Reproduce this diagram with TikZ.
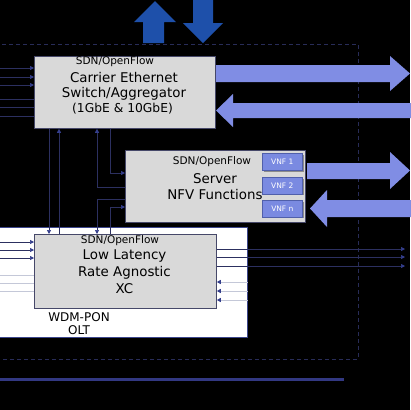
\documentclass[tikz,border=0pt]{standalone}
\usepackage{fontspec}
\setmainfont{DejaVu Sans}
\usetikzlibrary{arrows.meta}
\definecolor{peri}{RGB}{128,141,228}
\definecolor{royal}{RGB}{30,80,170}
\definecolor{navy}{RGB}{44,48,96}
\definecolor{navytip}{RGB}{52,62,140}
\definecolor{boxgray}{RGB}{217,217,217}
\definecolor{boxline}{RGB}{70,72,105}
\definecolor{vnffill}{RGB}{122,138,225}
\definecolor{vnfline}{RGB}{80,95,170}
\definecolor{lightln}{RGB}{196,200,216}
\definecolor{dashc}{RGB}{40,44,88}
\definecolor{olt}{RGB}{60,70,140}
\definecolor{bline}{RGB}{50,56,130}
\begin{document}
\begin{tikzpicture}[x=1pt,y=-1pt,
  gbox/.style={draw=boxline, fill=boxgray, line width=0.8pt, inner sep=0pt, anchor=north west},
  vnf/.style={draw=vnfline, fill=vnffill, line width=0.7pt, inner sep=0pt, anchor=north west,
    text=white, font=\fontsize{7.5}{9}\selectfont},
  tline/.style={draw=navy, line width=0.7pt},
  lline/.style={draw=lightln, line width=0.7pt},
  tarr/.style={tline, -{Triangle[length=4pt,width=4pt,fill=navytip,color=navytip]}},
  larr/.style={lline, -{Triangle[length=4pt,width=4pt,fill=navytip,color=navytip]}},
  bigarr/.style={fill=peri},
  small/.style={font=\fontsize{10.5}{12}\selectfont, inner sep=0pt},
  main/.style={font=\fontsize{13.4}{16}\selectfont, inner sep=0pt},
]
\fill[black] (0,0) rectangle (410,410);
\useasboundingbox (0,0) rectangle (410,410);

% dashed frame
\draw[dashc, line width=0.8pt, dash pattern=on 4pt off 3pt] (-5,44) -- (358,44) -- (358,359) -- (-5,359);
% bottom line
\draw[bline, line width=3pt] (0,379) -- (344,379);

% blue up/down arrows
\fill[royal] (143,43) -- (143,22) -- (134,22) -- (155,1) -- (176,22) -- (164,22) -- (164,43) -- cycle;
\fill[royal] (193,0) -- (213,0) -- (213,23) -- (223,23) -- (203,43) -- (183,23) -- (193,23) -- cycle;

% big periwinkle arrows
\fill[bigarr] (216,65) -- (390,65) -- (390,56) -- (410,73.5) -- (390,91) -- (390,82) -- (216,82) -- cycle;
\fill[bigarr] (412,103) -- (233,103) -- (233,94) -- (216,110.5) -- (233,127) -- (233,118) -- (412,118) -- cycle;
\fill[bigarr] (307,163) -- (390,163) -- (390,152) -- (410,170.5) -- (390,189) -- (390,179) -- (307,179) -- cycle;
\fill[bigarr] (412,200) -- (327,200) -- (327,190) -- (310,208.5) -- (327,227) -- (327,217) -- (412,217) -- cycle;

% WDM-PON OLT white box
\node[draw=olt, fill=white, line width=0.8pt, inner sep=0pt, anchor=north west,
      minimum width=250pt, minimum height=110pt] (oltbox) at (-3,226.5) {};

% main boxes
\node[gbox, minimum width=181pt, minimum height=72pt] (ce) at (34,56) {};
\node[gbox, minimum width=180pt, minimum height=72pt] (sv) at (125,150) {};
\node[gbox, minimum width=182pt, minimum height=74pt] (xc) at (34,234) {};

% VNF boxes with shadow
\fill[black!45] (263.5,154.5) rectangle (303.5,172);
\fill[black!45] (263.5,178.5) rectangle (303.5,195);
\fill[black!45] (263.5,201.5) rectangle (303.5,218);
\node[vnf, minimum width=40pt, minimum height=17pt] (v1) at (262,153) {VNF 1};
\node[vnf, minimum width=40pt, minimum height=16.5pt] (v2) at (262,177) {VNF 2};
\node[vnf, minimum width=40pt, minimum height=16.5pt] (vn) at (262,200) {VNF n};

% thin lines left of Carrier Ethernet box
\draw[tarr] (0,68) -- (0,68 -| ce.west);
\draw[tarr] (0,77) -- (0,77 -| ce.west);
\draw[tarr] (0,85) -- (0,85 -| ce.west);
\draw[tline] (0,99) -- (0,99 -| ce.west);
\draw[tline] (0,107) -- (0,107 -| ce.west);
\draw[tline] (0,116) -- (0,116 -| ce.west);

% thin lines left of XC box
\draw[tarr] (0,242) -- (0,242 -| xc.west);
\draw[tarr] (0,250) -- (0,250 -| xc.west);
\draw[tarr] (0,258) -- (0,258 -| xc.west);
\draw[lline] (0,275) -- (0,275 -| xc.west);
\draw[lline] (0,283) -- (0,283 -| xc.west);
\draw[lline] (0,291) -- (0,291 -| xc.west);

% XC right outputs
\draw[tarr] (0,249 -| xc.east) -- (405,249);
\draw[tarr] (0,257 -| xc.east) -- (405,257);
\draw[tarr] (0,266 -| xc.east) -- (405,266);
% XC right inputs
\draw[larr] (0,282 -| oltbox.east) -- (0,282 -| xc.east);
\draw[larr] (0,291 -| oltbox.east) -- (0,291 -| xc.east);
\draw[larr] (0,300 -| oltbox.east) -- (0,300 -| xc.east);

% vertical interconnects
\draw[tarr] (ce.south -| 49,0) -- (xc.north -| 49,0);
\draw[tarr] (xc.north -| 59,0) -- (ce.south -| 59,0);
\draw[tarr] (ce.south -| 110,0) |- (0,173 -| sv.west);
\draw[tarr] (xc.north -| 110,0) |- (0,207 -| sv.west);
\draw[tarr] (0,187 -| sv.west) -| (ce.south -| 97,0);
\draw[tarr] (0,199 -| sv.west) -| (xc.north -| 97,0);

% texts: Carrier Ethernet
\node[small] (ce1) at (115,62) {SDN/OpenFlow};
\node[main] (ce2) at (124,77.5) {Carrier Ethernet};
\node[main] (ce3) at (124,93.5) {Switch/Aggregator};
\node[font=\fontsize{12.3}{14}\selectfont, inner sep=0pt] (ce4) at (122.5,109) {(1GbE \& 10GbE)};
% Server
\node[small] (sv1) at (212,162) {SDN/OpenFlow};
\node[main] (sv2) at (215,179) {Server};
\node[main] (sv3) at (215,195) {NFV Functions};
% XC
\node[small] (xc1) at (120,241) {SDN/OpenFlow};
\node[main] (xc2) at (124.5,256.5) {Low Latency};
\node[main] (xc3) at (124.5,272.5) {Rate Agnostic};
\node[main] (xc4) at (124.5,288.5) {XC};
% OLT label
\node[font=\fontsize{12}{14}\selectfont, inner sep=0pt] (olt1) at (79,317) {WDM-PON};
\node[font=\fontsize{12}{14}\selectfont, inner sep=0pt] (olt2) at (79,330) {OLT};
\end{tikzpicture}
\end{document}
